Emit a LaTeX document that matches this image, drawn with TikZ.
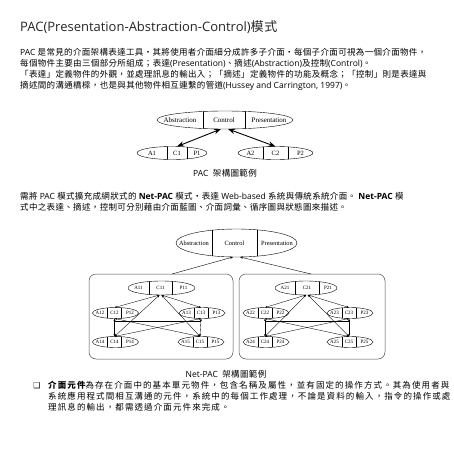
\documentclass[tikz,border=0pt]{standalone}
\usepackage{fontspec}
\setmainfont[LetterSpace=4]{Noto Sans CJK TC}
\newfontfamily\cjk[LetterSpace=4]{Noto Sans CJK TC}
\newfontfamily\cjkwide[LetterSpace=13]{Noto Sans CJK TC}
\newfontfamily\lat{Open Sans}
\newfontfamily\diag{Liberation Serif}
\newfontfamily\symb{DejaVu Sans}
\usetikzlibrary{calc}
\usetikzlibrary{shapes.geometric}
\usetikzlibrary{arrows.meta}

% name, center, x radius, y radius, left divider, right divider, A, C, P
\newcommand{\pacobj}[9]{%
  \node[pacshape, minimum width=2*#3, minimum height=2*#4] (#1) at (#2) {};
  \node[pacpart, minimum width=#6-(#5), minimum height=2*#4] (#1c)
    at ($(#1.center)+({(#5+#6)/2},0)$) {#8};
  \begin{scope}
    \clip (#1.center) ellipse [x radius=#3pt, y radius=#4pt];
    \draw (#1c.north west) -- (#1c.south west) (#1c.north east) -- (#1c.south east);
  \end{scope}
  \node[pactext, inner sep=0pt] (#1a) at ($(#1.center)+({(#5-#3)/2},0)$) {#7};
  \node[pactext, inner sep=0pt] (#1p) at ($(#1.center)+({(#6+#3)/2},0)$) {#9};
}

\begin{document}
\begin{tikzpicture}[x=1pt, y=-1pt,
    pacshape/.style={draw, ellipse, inner sep=0pt, outer sep=0pt},
    pacpart/.style={rectangle, inner sep=0pt, outer sep=0pt, pactext},
    pactext/.style={font=\diag\fontsize{5}{6}\selectfont},
    netbox/.style={draw=black!70, rounded corners=7pt, line width=0.5pt, inner sep=0pt, outer sep=0pt},
    bigarrow/.style={Stealth-Stealth, line width=0.9pt},
    smallarrow/.style={{Stealth[length=2.6pt,width=2pt]}-{Stealth[length=2.6pt,width=2pt]}, line width=0.35pt},
    toarrow/.style={-{Stealth[length=3pt,width=2.4pt]}, line width=0.4pt},
    bodyline/.style={anchor=base west, inner sep=0pt, font=\fontsize{8.5}{10}\selectfont},
    caption/.style={anchor=base, inner sep=0pt, font=\fontsize{8.5}{10}\selectfont}
  ]
  \fill[white] (0,0) rectangle (453,453);
  \useasboundingbox (0,0) rectangle (453,453);

  \node[anchor=base west, inner sep=0pt, text=black!85, font=\lat\fontsize{13}{15}\selectfont] (title) at (20,31)
    {PAC(Presentation-Abstraction-Control){\cjk 模式}};

  \node[bodyline] (p1a) at (20,55) {{\lat PAC} 是常見的介面架構表達工具‧其將使用者介面細分成許多子介面‧每個子介面可視為一個介面物件，};
  \node[bodyline] (p1b) at (20,66) {每個物件主要由三個部分所組成；表達{\lat (Presentation)}、摘述{\lat (Abstraction)}及控制{\lat (Control)}。};
  \node[bodyline] (p1c) at (20,77) {「表達」定義物件的外觀，並處理訊息的輸出入；「摘述」定義物件的功能及概念；「控制」則是表達與};
  \node[bodyline] (p1d) at (20,88) {摘述間的溝通橋樑，也是與其他物件相互連繫的管道{\lat (Hussey and Carrington, 1997)}。};

  \begin{scope}[pactext/.style={font=\diag\fontsize{7}{9}\selectfont}]
    \pacobj{pac}{225,120}{68}{9}{-22}{20}{Abstraction}{Control}{Presentation}
  \end{scope}
  \begin{scope}[pactext/.style={font=\diag\fontsize{6.5}{8}\selectfont}]
    \pacobj{pacl}{172,153}{35}{6.5}{-5}{15}{A1}{C1}{P1}
    \pacobj{pacr}{275.5,153}{37.5}{6.5}{-12.5}{12.5}{A2}{C2}{P2}
  \end{scope}
  \draw[bigarrow] (paclc.north) -- ([xshift=-4pt]pac.south);
  \draw[bigarrow] (pacrc.north) -- ([xshift=3pt]pac.south);
  \node[caption] (cap1) at (225,176) {{\lat PAC}\ \ 架構圖範例};

  \node[bodyline] (p2a) at (20,199) {需將 {\lat PAC} 模式擴充成網狀式的 {\lat\bfseries Net-PAC} 模式‧表達 {\lat Web-based} 系統與傳統系統介面。 {\lat\bfseries Net-PAC} 模};
  \node[bodyline] (p2b) at (20,210.5) {式中之表達、摘述，控制可分別藉由介面藍圖、介面詞彙、循序圖與狀態圖來描述。};

  \begin{scope}[pactext/.style={font=\diag\fontsize{6.4}{8}\selectfont}]
    \pacobj{npac}{236.5,243}{60.5}{14}{-24.5}{20.5}{Abstraction}{Control}{Presentation}
  \end{scope}
  \node[netbox, minimum width=144, minimum height=85] (box1) at (161,316.5) {};
  \node[netbox, minimum width=146, minimum height=85] (box2) at (312,316.5) {};
  \draw[toarrow] ([xshift=11pt]box1.north) -- ([xshift=-3.5pt]npac.south);
  \draw[toarrow] ([xshift=-1pt]box2.north) -- ([xshift=3.5pt]npac.south);

  \begin{scope}[pactext/.style={font=\diag\fontsize{5}{6}\selectfont}]
    \pacobj{t1}{161.5,288}{33.5}{7}{-12.5}{10.5}{A11}{C11}{P11}
    \pacobj{l1}{115.5,313}{23}{5.5}{-8}{6}{A12}{C12}{P12}
    \pacobj{r1}{202,313}{23}{5.5}{-8}{6}{A13}{C13}{P13}
    \pacobj{bl1}{115.5,342}{23}{5.5}{-8}{6}{A14}{C14}{P14}
    \pacobj{br1}{201,342}{23}{5.5}{-8}{6}{A15}{C15}{P15}
    \pacobj{t2}{306,288}{31}{7}{-11}{13}{A21}{C21}{P21}
    \pacobj{l2}{266,313}{23}{5.5}{-8}{6}{A22}{C22}{P22}
    \pacobj{r2}{350,313}{23}{5.5}{-8}{6}{A23}{C23}{P23}
    \pacobj{bl2}{266,342}{23}{5.5}{-8}{6}{A24}{C24}{P24}
    \pacobj{br2}{350,342}{23}{5.5}{-8}{6}{A25}{C25}{P25}
  \end{scope}

  \foreach \n in {1,2} {
    \draw[smallarrow] ([xshift=-1pt]t\n c.south) -- (l\n c.north);
    \draw[smallarrow] ([xshift=1pt]t\n c.south) -- (r\n c.north);
    \draw[smallarrow] ([xshift=-1pt]t\n c.south) -- (bl\n c.north);
    \draw[smallarrow] ([xshift=1pt]t\n c.south) -- (br\n c.north);
    \draw[smallarrow] (l\n c.south) -- (bl\n c.north);
    \draw[smallarrow] (r\n c.south) -- (br\n c.north);
    \draw[smallarrow] (l\n c.south) -- (br\n c.north);
    \draw[smallarrow] (r\n c.south) -- (bl\n c.north);
    \draw[line width=0.35pt] ([yshift=-3pt]l\n c.south) -- ([yshift=-3pt]r\n c.south);
  }
  \node[caption] (cap2) at (226,377) {{\lat Net-PAC}\ \ 架構圖範例};

  \node[anchor=base, inner sep=0pt, font=\symb\fontsize{8}{10}\selectfont] (bullet) at (37,388) {❑};
  \node[bodyline, font=\cjkwide\fontsize{8.5}{10}\selectfont] (b1) at (48,388) {{\bfseries 介面元件}為存在介面中的基本單元物件，包含名稱及屬性，並有固定的操作方式。其為使用者與};
  \node[bodyline, font=\cjkwide\fontsize{8.5}{10}\selectfont] (b2) at (48,399) {系統應用程式間相互溝通的元件，系統中的每個工作處理，不論是資料的輸入，指令的操作或處};
  \node[bodyline, font=\cjkwide\fontsize{8.5}{10}\selectfont] (b3) at (48,410) {理訊息的輸出，都需透過介面元件來完成。};
\end{tikzpicture}
\end{document}
